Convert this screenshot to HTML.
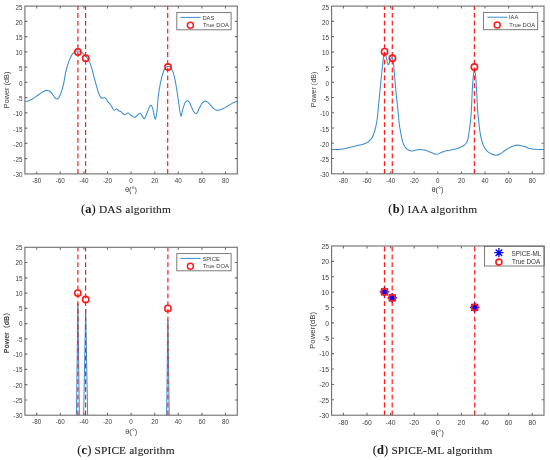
<!DOCTYPE html>
<html><head><meta charset="utf-8"><title>DOA estimation comparison</title>
<style>
html,body{margin:0;padding:0;background:#fff;}
body{width:550px;height:460px;overflow:hidden;}
svg{display:block;}
</style></head><body>
<svg width="550" height="460" viewBox="0 0 550 460" font-family="Liberation Sans, Arial, sans-serif">
<path d="M36.70,173.90V171.50M36.70,6.10V8.50M60.30,173.90V171.50M60.30,6.10V8.50M83.90,173.90V171.50M83.90,6.10V8.50M107.50,173.90V171.50M107.50,6.10V8.50M131.10,173.90V171.50M131.10,6.10V8.50M154.70,173.90V171.50M154.70,6.10V8.50M178.30,173.90V171.50M178.30,6.10V8.50M201.90,173.90V171.50M201.90,6.10V8.50M225.50,173.90V171.50M225.50,6.10V8.50M24.90,158.65H27.30M237.30,158.65H234.90M24.90,143.39H27.30M237.30,143.39H234.90M24.90,128.14H27.30M237.30,128.14H234.90M24.90,112.88H27.30M237.30,112.88H234.90M24.90,97.63H27.30M237.30,97.63H234.90M24.90,82.37H27.30M237.30,82.37H234.90M24.90,67.12H27.30M237.30,67.12H234.90M24.90,51.86H27.30M237.30,51.86H234.90M24.90,36.61H27.30M237.30,36.61H234.90M24.90,21.35H27.30M237.30,21.35H234.90" stroke="#6e6e6e" stroke-width="1.1" fill="none"/>
<text x="36.70" y="183.20" text-anchor="middle" font-size="6.30" fill="#404040">-80</text>
<text x="60.30" y="183.20" text-anchor="middle" font-size="6.30" fill="#404040">-60</text>
<text x="83.90" y="183.20" text-anchor="middle" font-size="6.30" fill="#404040">-40</text>
<text x="107.50" y="183.20" text-anchor="middle" font-size="6.30" fill="#404040">-20</text>
<text x="131.10" y="183.20" text-anchor="middle" font-size="6.30" fill="#404040">0</text>
<text x="154.70" y="183.20" text-anchor="middle" font-size="6.30" fill="#404040">20</text>
<text x="178.30" y="183.20" text-anchor="middle" font-size="6.30" fill="#404040">40</text>
<text x="201.90" y="183.20" text-anchor="middle" font-size="6.30" fill="#404040">60</text>
<text x="225.50" y="183.20" text-anchor="middle" font-size="6.30" fill="#404040">80</text>
<text x="22.40" y="177.37" text-anchor="end" font-size="6.30" fill="#404040">-30</text>
<text x="22.40" y="162.11" text-anchor="end" font-size="6.30" fill="#404040">-25</text>
<text x="22.40" y="146.86" text-anchor="end" font-size="6.30" fill="#404040">-20</text>
<text x="22.40" y="131.60" text-anchor="end" font-size="6.30" fill="#404040">-15</text>
<text x="22.40" y="116.35" text-anchor="end" font-size="6.30" fill="#404040">-10</text>
<text x="22.40" y="101.10" text-anchor="end" font-size="6.30" fill="#404040">-5</text>
<text x="22.40" y="85.84" text-anchor="end" font-size="6.30" fill="#404040">0</text>
<text x="22.40" y="70.59" text-anchor="end" font-size="6.30" fill="#404040">5</text>
<text x="22.40" y="55.33" text-anchor="end" font-size="6.30" fill="#404040">10</text>
<text x="22.40" y="40.08" text-anchor="end" font-size="6.30" fill="#404040">15</text>
<text x="22.40" y="24.82" text-anchor="end" font-size="6.30" fill="#404040">20</text>
<text x="22.40" y="9.57" text-anchor="end" font-size="6.30" fill="#404040">25</text>
<text x="131.00" y="192.40" text-anchor="middle" font-size="7.40" fill="#404040">θ(°)</text>
<text transform="translate(9.30,89.90) rotate(-90)" text-anchor="middle" font-size="7.40" fill="#404040" textLength="36.50" lengthAdjust="spacingAndGlyphs">Power (dB)</text>
<path d="M24.90,101.40 C25.43,101.32 26.88,101.30 28.10,100.90 C29.32,100.50 30.83,99.75 32.20,99.00 C33.57,98.25 34.93,97.32 36.30,96.40 C37.67,95.48 39.03,94.40 40.40,93.50 C41.77,92.60 43.35,91.52 44.50,91.00 C45.65,90.48 46.35,90.32 47.30,90.40 C48.25,90.48 49.32,90.85 50.20,91.50 C51.08,92.15 51.85,93.33 52.60,94.30 C53.35,95.27 54.02,96.52 54.70,97.30 C55.38,98.08 56.02,98.95 56.70,99.00 C57.38,99.05 58.12,98.52 58.80,97.60 C59.48,96.68 60.18,95.07 60.80,93.50 C61.42,91.93 62.02,89.90 62.50,88.20 C62.98,86.50 63.22,85.72 63.70,83.30 C64.18,80.88 64.82,76.50 65.40,73.70 C65.98,70.90 66.50,68.88 67.20,66.50 C67.90,64.12 68.80,61.38 69.60,59.40 C70.40,57.42 71.10,55.90 72.00,54.60 C72.90,53.30 74.02,52.20 75.00,51.60 C75.98,51.00 76.82,50.90 77.90,51.00 C78.98,51.10 80.50,51.70 81.50,52.20 C82.50,52.70 82.90,53.00 83.90,54.00 C84.90,55.00 86.50,56.72 87.50,58.20 C88.50,59.68 89.10,60.92 89.90,62.90 C90.70,64.88 91.50,67.30 92.30,70.10 C93.10,72.90 93.90,76.70 94.70,79.70 C95.50,82.70 96.30,85.52 97.10,88.10 C97.90,90.68 98.70,93.52 99.50,95.20 C100.30,96.88 101.07,97.80 101.90,98.20 C102.73,98.60 103.80,97.47 104.50,97.60 C105.20,97.73 105.48,98.23 106.10,99.00 C106.72,99.77 107.45,101.25 108.20,102.20 C108.95,103.15 109.92,103.82 110.60,104.70 C111.28,105.58 111.75,106.58 112.30,107.50 C112.85,108.42 113.15,109.97 113.90,110.20 C114.65,110.43 115.98,108.80 116.80,108.90 C117.62,109.00 118.05,110.28 118.80,110.80 C119.55,111.32 120.35,111.35 121.30,112.00 C122.25,112.65 123.35,114.52 124.50,114.70 C125.65,114.88 127.03,112.93 128.20,113.10 C129.37,113.27 130.40,114.98 131.50,115.70 C132.60,116.42 133.85,117.47 134.80,117.40 C135.75,117.33 136.45,115.97 137.20,115.30 C137.95,114.63 138.68,113.63 139.30,113.40 C139.92,113.17 140.28,113.23 140.90,113.90 C141.52,114.57 142.33,116.68 143.00,117.40 C143.67,118.12 144.10,119.30 144.90,118.20 C145.70,117.10 146.85,112.97 147.80,110.80 C148.75,108.63 149.78,105.55 150.60,105.20 C151.42,104.85 152.12,107.05 152.70,108.70 C153.28,110.35 153.63,113.38 154.10,115.10 C154.57,116.82 155.02,119.72 155.50,119.00 C155.98,118.28 156.52,114.75 157.00,110.80 C157.48,106.85 157.82,100.00 158.40,95.30 C158.98,90.60 159.80,86.13 160.50,82.60 C161.20,79.07 161.90,76.45 162.60,74.10 C163.30,71.75 163.88,69.78 164.70,68.50 C165.52,67.22 166.55,66.60 167.50,66.40 C168.45,66.20 169.45,66.25 170.40,67.30 C171.35,68.35 172.38,70.38 173.20,72.70 C174.02,75.02 174.60,77.67 175.30,81.20 C176.00,84.73 176.70,89.35 177.40,93.90 C178.10,98.45 178.90,104.77 179.50,108.50 C180.10,112.23 180.53,115.83 181.00,116.30 C181.47,116.77 181.80,113.13 182.30,111.30 C182.80,109.47 183.45,106.88 184.00,105.30 C184.55,103.72 185.02,102.57 185.60,101.80 C186.18,101.03 186.87,100.62 187.50,100.70 C188.13,100.78 188.77,101.35 189.40,102.30 C190.03,103.25 190.67,104.98 191.30,106.40 C191.93,107.82 192.52,109.57 193.20,110.80 C193.88,112.03 194.72,113.53 195.40,113.80 C196.08,114.07 196.67,113.27 197.30,112.40 C197.93,111.53 198.52,109.97 199.20,108.60 C199.88,107.23 200.53,105.42 201.40,104.20 C202.27,102.98 203.42,101.68 204.40,101.30 C205.38,100.92 206.28,101.27 207.30,101.90 C208.32,102.53 209.48,104.02 210.50,105.10 C211.52,106.18 212.50,107.58 213.40,108.40 C214.30,109.22 214.95,109.73 215.90,110.00 C216.85,110.27 217.95,110.20 219.10,110.00 C220.25,109.80 221.37,109.47 222.80,108.80 C224.23,108.13 226.07,106.95 227.70,106.00 C229.33,105.05 231.00,103.93 232.60,103.10 C234.20,102.27 236.52,101.35 237.30,101.00" fill="none" stroke="#3a8dd0" stroke-width="1.05"/>
<line x1="77.90" y1="173.90" x2="77.90" y2="6.10" stroke="#ff1a1a" stroke-width="1.2" stroke-dasharray="4.8 3.0"/>
<line x1="85.60" y1="173.90" x2="85.60" y2="6.10" stroke="#ff1a1a" stroke-width="1.2" stroke-dasharray="4.8 3.0"/>
<line x1="167.70" y1="173.90" x2="167.70" y2="6.10" stroke="#ff1a1a" stroke-width="1.2" stroke-dasharray="4.8 3.0"/>
<circle cx="77.90" cy="52.00" r="3.15" fill="none" stroke="#ff1a1a" stroke-width="1.60"/>
<circle cx="85.70" cy="58.30" r="3.15" fill="none" stroke="#ff1a1a" stroke-width="1.60"/>
<circle cx="168.00" cy="67.00" r="3.15" fill="none" stroke="#ff1a1a" stroke-width="1.60"/>
<rect x="176.8" y="12.6" width="54.3" height="17.2" fill="#fff" stroke="#6e6e6e" stroke-width="0.9"/>
<line x1="180.5" y1="17.4" x2="200.6" y2="17.4" stroke="#3a8dd0" stroke-width="1"/>
<circle cx="190.40" cy="25.30" r="3.00" fill="none" stroke="#ff1a1a" stroke-width="1.50"/>
<text x="202.4" y="19.6" font-size="5.8" fill="#404040">DAS</text>
<text x="202.9" y="27.4" font-size="5.8" fill="#404040">True DOA</text>
<rect x="24.90" y="6.10" width="212.40" height="167.80" fill="none" stroke="#6e6e6e" stroke-width="1.1"/>
<path d="M343.40,173.80V171.40M343.40,6.10V8.50M367.00,173.80V171.40M367.00,6.10V8.50M390.60,173.80V171.40M390.60,6.10V8.50M414.20,173.80V171.40M414.20,6.10V8.50M437.80,173.80V171.40M437.80,6.10V8.50M461.40,173.80V171.40M461.40,6.10V8.50M485.00,173.80V171.40M485.00,6.10V8.50M508.60,173.80V171.40M508.60,6.10V8.50M532.20,173.80V171.40M532.20,6.10V8.50M331.60,158.55H334.00M544.00,158.55H541.60M331.60,143.31H334.00M544.00,143.31H541.60M331.60,128.06H334.00M544.00,128.06H541.60M331.60,112.82H334.00M544.00,112.82H541.60M331.60,97.57H334.00M544.00,97.57H541.60M331.60,82.33H334.00M544.00,82.33H541.60M331.60,67.08H334.00M544.00,67.08H541.60M331.60,51.84H334.00M544.00,51.84H541.60M331.60,36.59H334.00M544.00,36.59H541.60M331.60,21.35H334.00M544.00,21.35H541.60" stroke="#6e6e6e" stroke-width="1.1" fill="none"/>
<text x="343.40" y="183.20" text-anchor="middle" font-size="6.30" fill="#404040">-80</text>
<text x="367.00" y="183.20" text-anchor="middle" font-size="6.30" fill="#404040">-60</text>
<text x="390.60" y="183.20" text-anchor="middle" font-size="6.30" fill="#404040">-40</text>
<text x="414.20" y="183.20" text-anchor="middle" font-size="6.30" fill="#404040">-20</text>
<text x="437.80" y="183.20" text-anchor="middle" font-size="6.30" fill="#404040">0</text>
<text x="461.40" y="183.20" text-anchor="middle" font-size="6.30" fill="#404040">20</text>
<text x="485.00" y="183.20" text-anchor="middle" font-size="6.30" fill="#404040">40</text>
<text x="508.60" y="183.20" text-anchor="middle" font-size="6.30" fill="#404040">60</text>
<text x="532.20" y="183.20" text-anchor="middle" font-size="6.30" fill="#404040">80</text>
<text x="329.10" y="177.27" text-anchor="end" font-size="6.30" fill="#404040">-30</text>
<text x="329.10" y="162.02" text-anchor="end" font-size="6.30" fill="#404040">-25</text>
<text x="329.10" y="146.78" text-anchor="end" font-size="6.30" fill="#404040">-20</text>
<text x="329.10" y="131.53" text-anchor="end" font-size="6.30" fill="#404040">-15</text>
<text x="329.10" y="116.29" text-anchor="end" font-size="6.30" fill="#404040">-10</text>
<text x="329.10" y="101.04" text-anchor="end" font-size="6.30" fill="#404040">-5</text>
<text x="329.10" y="85.80" text-anchor="end" font-size="6.30" fill="#404040">0</text>
<text x="329.10" y="70.55" text-anchor="end" font-size="6.30" fill="#404040">5</text>
<text x="329.10" y="55.30" text-anchor="end" font-size="6.30" fill="#404040">10</text>
<text x="329.10" y="40.06" text-anchor="end" font-size="6.30" fill="#404040">15</text>
<text x="329.10" y="24.81" text-anchor="end" font-size="6.30" fill="#404040">20</text>
<text x="329.10" y="9.57" text-anchor="end" font-size="6.30" fill="#404040">25</text>
<text x="437.50" y="192.40" text-anchor="middle" font-size="7.40" fill="#404040">θ(°)</text>
<text transform="translate(315.90,89.50) rotate(-90)" text-anchor="middle" font-size="7.40" fill="#404040" textLength="35.50" lengthAdjust="spacingAndGlyphs">Power (dB)</text>
<path d="M331.60,149.40 C332.55,149.40 335.45,149.45 337.30,149.40 C339.15,149.35 340.88,149.38 342.70,149.10 C344.52,148.82 346.38,148.15 348.20,147.70 C350.02,147.25 351.63,146.85 353.60,146.40 C355.57,145.95 358.18,145.43 360.00,145.00 C361.82,144.57 363.13,144.33 364.50,143.80 C365.87,143.27 367.13,142.58 368.20,141.80 C369.27,141.02 370.15,140.00 370.90,139.10 C371.65,138.20 372.17,137.47 372.70,136.40 C373.23,135.33 373.65,133.98 374.10,132.70 C374.55,131.42 374.87,131.10 375.40,128.70 C375.93,126.30 376.77,122.37 377.30,118.30 C377.83,114.23 378.22,108.18 378.60,104.30 C378.98,100.42 379.25,98.55 379.60,95.00 C379.95,91.45 380.27,87.35 380.70,83.00 C381.13,78.65 381.72,73.42 382.20,68.90 C382.68,64.38 383.22,58.70 383.60,55.90 C383.98,53.10 384.15,52.28 384.50,52.10 C384.85,51.92 385.32,53.53 385.70,54.80 C386.08,56.07 386.40,58.07 386.80,59.70 C387.20,61.33 387.67,64.05 388.10,64.60 C388.53,65.15 388.95,63.92 389.40,63.00 C389.85,62.08 390.32,60.02 390.80,59.10 C391.28,58.18 391.88,57.13 392.30,57.50 C392.72,57.87 393.00,59.22 393.30,61.30 C393.60,63.38 393.78,66.38 394.10,70.00 C394.42,73.62 394.83,78.83 395.20,83.00 C395.57,87.17 395.92,91.15 396.30,95.00 C396.68,98.85 397.02,101.35 397.50,106.10 C397.98,110.85 398.70,119.27 399.20,123.50 C399.70,127.73 399.95,128.52 400.50,131.50 C401.05,134.48 401.73,138.80 402.50,141.40 C403.27,144.00 404.03,145.62 405.10,147.10 C406.17,148.58 407.73,149.67 408.90,150.30 C410.07,150.93 410.40,151.02 412.10,150.90 C413.80,150.78 416.87,149.70 419.10,149.60 C421.33,149.50 423.60,149.87 425.50,150.30 C427.40,150.73 428.70,151.53 430.50,152.20 C432.30,152.87 434.60,154.20 436.30,154.30 C438.00,154.40 439.22,153.37 440.70,152.80 C442.18,152.23 443.50,151.37 445.20,150.90 C446.90,150.43 448.88,150.42 450.90,150.00 C452.92,149.58 455.38,149.03 457.30,148.40 C459.22,147.77 461.18,146.78 462.40,146.20 C463.62,145.62 463.88,145.50 464.60,144.90 C465.32,144.30 466.08,143.88 466.70,142.60 C467.32,141.32 467.85,139.37 468.30,137.20 C468.75,135.03 469.03,132.32 469.40,129.60 C469.77,126.88 470.17,124.17 470.50,120.90 C470.83,117.63 471.08,115.48 471.40,110.00 C471.72,104.52 472.05,94.00 472.40,88.00 C472.75,82.00 473.17,77.08 473.50,74.00 C473.83,70.92 474.08,69.50 474.40,69.50 C474.72,69.50 475.05,70.92 475.40,74.00 C475.75,77.08 476.13,82.00 476.50,88.00 C476.87,94.00 477.23,104.52 477.60,110.00 C477.97,115.48 478.33,117.45 478.70,120.90 C479.07,124.35 479.35,127.63 479.80,130.70 C480.25,133.77 480.68,136.58 481.40,139.30 C482.12,142.02 483.10,145.00 484.10,147.00 C485.10,149.00 486.22,150.18 487.40,151.30 C488.58,152.42 489.77,153.05 491.20,153.70 C492.63,154.35 494.53,155.15 496.00,155.20 C497.47,155.25 498.50,154.78 500.00,154.00 C501.50,153.22 503.33,151.58 505.00,150.50 C506.67,149.42 508.33,148.33 510.00,147.50 C511.67,146.67 513.50,145.88 515.00,145.50 C516.50,145.12 517.50,145.03 519.00,145.20 C520.50,145.37 522.17,145.95 524.00,146.50 C525.83,147.05 528.33,148.03 530.00,148.50 C531.67,148.97 532.50,149.13 534.00,149.30 C535.50,149.47 537.33,149.47 539.00,149.50 C540.67,149.53 543.17,149.50 544.00,149.50" fill="none" stroke="#3a8dd0" stroke-width="1.05"/>
<line x1="384.50" y1="173.80" x2="384.50" y2="6.10" stroke="#ff1a1a" stroke-width="1.2" stroke-dasharray="4.8 3.0"/>
<line x1="392.30" y1="173.80" x2="392.30" y2="6.10" stroke="#ff1a1a" stroke-width="1.2" stroke-dasharray="4.8 3.0"/>
<line x1="474.40" y1="173.80" x2="474.40" y2="6.10" stroke="#ff1a1a" stroke-width="1.2" stroke-dasharray="4.8 3.0"/>
<circle cx="384.60" cy="51.70" r="3.15" fill="none" stroke="#ff1a1a" stroke-width="1.60"/>
<circle cx="392.40" cy="58.30" r="3.15" fill="none" stroke="#ff1a1a" stroke-width="1.60"/>
<circle cx="474.40" cy="67.00" r="3.15" fill="none" stroke="#ff1a1a" stroke-width="1.60"/>
<rect x="483.4" y="12.4" width="54.3" height="17.3" fill="#fff" stroke="#6e6e6e" stroke-width="0.9"/>
<line x1="487.4" y1="17.2" x2="507.4" y2="17.2" stroke="#3a8dd0" stroke-width="1"/>
<circle cx="497.20" cy="24.90" r="3.00" fill="none" stroke="#ff1a1a" stroke-width="1.50"/>
<text x="509.0" y="19.4" font-size="5.8" fill="#404040">IAA</text>
<text x="509.3" y="27.2" font-size="5.8" fill="#404040">True DOA</text>
<rect x="331.60" y="6.10" width="212.40" height="167.70" fill="none" stroke="#6e6e6e" stroke-width="1.1"/>
<path d="M36.70,415.20V412.80M36.70,247.30V249.70M60.30,415.20V412.80M60.30,247.30V249.70M83.90,415.20V412.80M83.90,247.30V249.70M107.50,415.20V412.80M107.50,247.30V249.70M131.10,415.20V412.80M131.10,247.30V249.70M154.70,415.20V412.80M154.70,247.30V249.70M178.30,415.20V412.80M178.30,247.30V249.70M201.90,415.20V412.80M201.90,247.30V249.70M225.50,415.20V412.80M225.50,247.30V249.70M24.90,399.94H27.30M237.30,399.94H234.90M24.90,384.67H27.30M237.30,384.67H234.90M24.90,369.41H27.30M237.30,369.41H234.90M24.90,354.15H27.30M237.30,354.15H234.90M24.90,338.88H27.30M237.30,338.88H234.90M24.90,323.62H27.30M237.30,323.62H234.90M24.90,308.35H27.30M237.30,308.35H234.90M24.90,293.09H27.30M237.30,293.09H234.90M24.90,277.83H27.30M237.30,277.83H234.90M24.90,262.56H27.30M237.30,262.56H234.90" stroke="#6e6e6e" stroke-width="1.1" fill="none"/>
<text x="36.70" y="424.30" text-anchor="middle" font-size="6.30" fill="#404040">-80</text>
<text x="60.30" y="424.30" text-anchor="middle" font-size="6.30" fill="#404040">-60</text>
<text x="83.90" y="424.30" text-anchor="middle" font-size="6.30" fill="#404040">-40</text>
<text x="107.50" y="424.30" text-anchor="middle" font-size="6.30" fill="#404040">-20</text>
<text x="131.10" y="424.30" text-anchor="middle" font-size="6.30" fill="#404040">0</text>
<text x="154.70" y="424.30" text-anchor="middle" font-size="6.30" fill="#404040">20</text>
<text x="178.30" y="424.30" text-anchor="middle" font-size="6.30" fill="#404040">40</text>
<text x="201.90" y="424.30" text-anchor="middle" font-size="6.30" fill="#404040">60</text>
<text x="225.50" y="424.30" text-anchor="middle" font-size="6.30" fill="#404040">80</text>
<text x="22.40" y="418.07" text-anchor="end" font-size="6.30" fill="#404040">-30</text>
<text x="22.40" y="402.80" text-anchor="end" font-size="6.30" fill="#404040">-25</text>
<text x="22.40" y="387.54" text-anchor="end" font-size="6.30" fill="#404040">-20</text>
<text x="22.40" y="372.28" text-anchor="end" font-size="6.30" fill="#404040">-15</text>
<text x="22.40" y="357.01" text-anchor="end" font-size="6.30" fill="#404040">-10</text>
<text x="22.40" y="341.75" text-anchor="end" font-size="6.30" fill="#404040">-5</text>
<text x="22.40" y="326.49" text-anchor="end" font-size="6.30" fill="#404040">0</text>
<text x="22.40" y="311.22" text-anchor="end" font-size="6.30" fill="#404040">5</text>
<text x="22.40" y="295.96" text-anchor="end" font-size="6.30" fill="#404040">10</text>
<text x="22.40" y="280.70" text-anchor="end" font-size="6.30" fill="#404040">15</text>
<text x="22.40" y="265.43" text-anchor="end" font-size="6.30" fill="#404040">20</text>
<text x="22.40" y="250.17" text-anchor="end" font-size="6.30" fill="#404040">25</text>
<text x="131.20" y="433.90" text-anchor="middle" font-size="7.40" fill="#404040">θ(°)</text>
<text transform="translate(9.00,331.00) rotate(-90)" text-anchor="middle" font-size="7.00" fill="#404040" font-weight="bold" font-family="Liberation Sans, Noto Sans CJK SC, sans-serif">Power（dB）</text>
<path d="M76.45,415.20 L77.90,303.50 L79.35,415.20" fill="none" stroke="#3a8dd0" stroke-width="1"/>
<path d="M83.65,415.20 L85.65,309.50 L87.65,415.20" fill="none" stroke="#3a8dd0" stroke-width="1"/>
<path d="M166.60,415.20 L167.90,320.50 L169.20,415.20" fill="none" stroke="#3a8dd0" stroke-width="1"/>
<line x1="77.90" y1="415.20" x2="77.90" y2="247.30" stroke="#ff1a1a" stroke-width="1.2" stroke-dasharray="4.8 3.0"/>
<line x1="85.60" y1="415.20" x2="85.60" y2="247.30" stroke="#ff1a1a" stroke-width="1.2" stroke-dasharray="4.8 3.0"/>
<line x1="167.90" y1="415.20" x2="167.90" y2="247.30" stroke="#ff1a1a" stroke-width="1.2" stroke-dasharray="4.8 3.0"/>
<circle cx="77.80" cy="293.10" r="3.15" fill="none" stroke="#ff1a1a" stroke-width="1.60"/>
<circle cx="85.70" cy="299.50" r="3.15" fill="none" stroke="#ff1a1a" stroke-width="1.60"/>
<circle cx="167.90" cy="308.40" r="3.15" fill="none" stroke="#ff1a1a" stroke-width="1.60"/>
<rect x="176.8" y="253.6" width="54.3" height="17.2" fill="#fff" stroke="#6e6e6e" stroke-width="0.9"/>
<line x1="180.5" y1="258.4" x2="200.6" y2="258.4" stroke="#3a8dd0" stroke-width="1"/>
<circle cx="190.40" cy="266.30" r="3.00" fill="none" stroke="#ff1a1a" stroke-width="1.50"/>
<text x="202.4" y="260.6" font-size="5.8" fill="#404040">SPICE</text>
<text x="202.9" y="268.4" font-size="5.8" fill="#404040">True DOA</text>
<rect x="24.90" y="247.30" width="212.40" height="167.90" fill="none" stroke="#6e6e6e" stroke-width="1.1"/>
<path d="M343.40,415.20V412.80M343.40,246.00V248.40M367.00,415.20V412.80M367.00,246.00V248.40M390.60,415.20V412.80M390.60,246.00V248.40M414.20,415.20V412.80M414.20,246.00V248.40M437.80,415.20V412.80M437.80,246.00V248.40M461.40,415.20V412.80M461.40,246.00V248.40M485.00,415.20V412.80M485.00,246.00V248.40M508.60,415.20V412.80M508.60,246.00V248.40M532.20,415.20V412.80M532.20,246.00V248.40M331.60,399.82H334.00M544.00,399.82H541.60M331.60,384.44H334.00M544.00,384.44H541.60M331.60,369.05H334.00M544.00,369.05H541.60M331.60,353.67H334.00M544.00,353.67H541.60M331.60,338.29H334.00M544.00,338.29H541.60M331.60,322.91H334.00M544.00,322.91H541.60M331.60,307.53H334.00M544.00,307.53H541.60M331.60,292.15H334.00M544.00,292.15H541.60M331.60,276.76H334.00M544.00,276.76H541.60M331.60,261.38H334.00M544.00,261.38H541.60" stroke="#6e6e6e" stroke-width="1.1" fill="none"/>
<text x="343.40" y="425.10" text-anchor="middle" font-size="6.80" fill="#404040">-80</text>
<text x="367.00" y="425.10" text-anchor="middle" font-size="6.80" fill="#404040">-60</text>
<text x="390.60" y="425.10" text-anchor="middle" font-size="6.80" fill="#404040">-40</text>
<text x="414.20" y="425.10" text-anchor="middle" font-size="6.80" fill="#404040">-20</text>
<text x="437.80" y="425.10" text-anchor="middle" font-size="6.80" fill="#404040">0</text>
<text x="461.40" y="425.10" text-anchor="middle" font-size="6.80" fill="#404040">20</text>
<text x="485.00" y="425.10" text-anchor="middle" font-size="6.80" fill="#404040">40</text>
<text x="508.60" y="425.10" text-anchor="middle" font-size="6.80" fill="#404040">60</text>
<text x="532.20" y="425.10" text-anchor="middle" font-size="6.80" fill="#404040">80</text>
<text x="329.10" y="417.95" text-anchor="end" font-size="6.80" fill="#404040">-30</text>
<text x="329.10" y="402.57" text-anchor="end" font-size="6.80" fill="#404040">-25</text>
<text x="329.10" y="387.18" text-anchor="end" font-size="6.80" fill="#404040">-20</text>
<text x="329.10" y="371.80" text-anchor="end" font-size="6.80" fill="#404040">-15</text>
<text x="329.10" y="356.42" text-anchor="end" font-size="6.80" fill="#404040">-10</text>
<text x="329.10" y="341.04" text-anchor="end" font-size="6.80" fill="#404040">-5</text>
<text x="329.10" y="325.66" text-anchor="end" font-size="6.80" fill="#404040">0</text>
<text x="329.10" y="310.28" text-anchor="end" font-size="6.80" fill="#404040">5</text>
<text x="329.10" y="294.89" text-anchor="end" font-size="6.80" fill="#404040">10</text>
<text x="329.10" y="279.51" text-anchor="end" font-size="6.80" fill="#404040">15</text>
<text x="329.10" y="264.13" text-anchor="end" font-size="6.80" fill="#404040">20</text>
<text x="329.10" y="248.75" text-anchor="end" font-size="6.80" fill="#404040">25</text>
<text x="437.50" y="434.80" text-anchor="middle" font-size="8.00" fill="#404040">θ(°)</text>
<text transform="translate(314.80,330.40) rotate(-90)" text-anchor="middle" font-size="7.90" fill="#404040" textLength="37.00" lengthAdjust="spacingAndGlyphs">Power(dB)</text>
<line x1="384.50" y1="415.20" x2="384.50" y2="246.00" stroke="#ff1a1a" stroke-width="1.2" stroke-dasharray="4.8 3.0"/>
<line x1="392.20" y1="415.20" x2="392.20" y2="246.00" stroke="#ff1a1a" stroke-width="1.2" stroke-dasharray="4.8 3.0"/>
<line x1="474.70" y1="415.20" x2="474.70" y2="246.00" stroke="#ff1a1a" stroke-width="1.2" stroke-dasharray="4.8 3.0"/>
<path d="M379.70,291.90L389.30,291.90M381.11,288.51L387.89,295.29M384.50,287.10L384.50,296.70M387.89,288.51L381.11,295.29" stroke="#0000ff" stroke-width="1.3" fill="none"/>
<circle cx="384.50" cy="291.90" r="2.4" fill="#0000ff"/>
<circle cx="384.50" cy="291.90" r="3.20" fill="none" stroke="#ff1a1a" stroke-width="1.70"/>
<path d="M387.40,297.90L397.00,297.90M388.81,294.51L395.59,301.29M392.20,293.10L392.20,302.70M395.59,294.51L388.81,301.29" stroke="#0000ff" stroke-width="1.3" fill="none"/>
<circle cx="392.20" cy="297.90" r="2.4" fill="#0000ff"/>
<circle cx="392.20" cy="297.90" r="3.20" fill="none" stroke="#ff1a1a" stroke-width="1.70"/>
<path d="M469.90,307.40L479.50,307.40M471.31,304.01L478.09,310.79M474.70,302.60L474.70,312.20M478.09,304.01L471.31,310.79" stroke="#0000ff" stroke-width="1.3" fill="none"/>
<circle cx="474.70" cy="307.40" r="2.4" fill="#0000ff"/>
<circle cx="474.70" cy="307.40" r="3.20" fill="none" stroke="#ff1a1a" stroke-width="1.70"/>
<rect x="484.5" y="246.3" width="59.8" height="19.7" fill="#fff" stroke="#6e6e6e" stroke-width="0.9"/>
<path d="M494.30,252.70L503.50,252.70M495.65,249.45L502.15,255.95M498.90,248.10L498.90,257.30M502.15,249.45L495.65,255.95" stroke="#0000ff" stroke-width="1.3" fill="none"/>
<circle cx="498.90" cy="262.10" r="3.00" fill="none" stroke="#ff1a1a" stroke-width="1.60"/>
<text x="511.6" y="255.6" font-size="6.3" fill="#333">SPICE-ML</text>
<text x="512.0" y="264.0" font-size="6.3" fill="#333">True DOA</text>
<rect x="331.60" y="246.00" width="212.40" height="169.20" fill="none" stroke="#6e6e6e" stroke-width="1.1"/>
<text x="80.90" y="213.20" font-family="Liberation Serif, Times New Roman, serif" fill="#1a1a1a" stroke="#1a1a1a" stroke-width="0.1" font-size="11.4" textLength="89.9" lengthAdjust="spacing"><tspan font-size="12.6">(</tspan><tspan font-weight="bold" font-size="12.4">a</tspan><tspan font-size="12.6">)</tspan> DAS algorithm</text>
<text x="388.30" y="212.60" font-family="Liberation Serif, Times New Roman, serif" fill="#1a1a1a" stroke="#1a1a1a" stroke-width="0.1" font-size="11.4" textLength="88.8" lengthAdjust="spacing"><tspan font-size="12.6">(</tspan><tspan font-weight="bold" font-size="12.4">b</tspan><tspan font-size="12.6">)</tspan> IAA algorithm</text>
<text x="77.30" y="454.10" font-family="Liberation Serif, Times New Roman, serif" fill="#1a1a1a" stroke="#1a1a1a" stroke-width="0.1" font-size="11.4" textLength="97.2" lengthAdjust="spacing"><tspan font-size="12.6">(</tspan><tspan font-weight="bold" font-size="12.4">c</tspan><tspan font-size="12.6">)</tspan> SPICE algorithm</text>
<text x="372.70" y="454.10" font-family="Liberation Serif, Times New Roman, serif" fill="#1a1a1a" stroke="#1a1a1a" stroke-width="0.1" font-size="11.4" textLength="119.6" lengthAdjust="spacing"><tspan font-size="12.6">(</tspan><tspan font-weight="bold" font-size="12.4">d</tspan><tspan font-size="12.6">)</tspan> SPICE-ML algorithm</text>
</svg>
</body></html>
